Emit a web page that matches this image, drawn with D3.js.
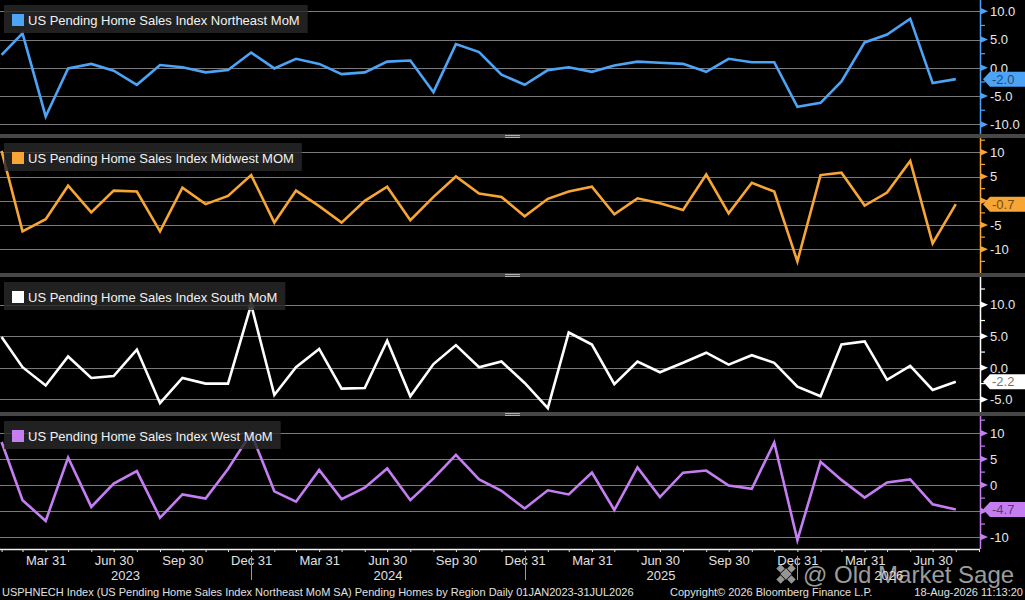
<!DOCTYPE html>
<meta charset="utf-8">
<style>
body { margin: 0; background: #000; }
svg { display: block; font-family: "Liberation Sans", Arial, sans-serif; }
</style>
<body>
<script src="https://cdn.jsdelivr.net/npm/d3@7/dist/d3.min.js"></script>
<script>

// month-end observations, Jan 31 2023 .. Jul 31 2026
var months = d3.timeMonth.range(new Date(2023, 1, 1), new Date(2026, 7, 2))
  .map(function(d) { return d3.timeDay.offset(d, -1); });

var northeast = [2.3, 6.1, -8.6, -0.1, 0.7, -0.5, -3.0, 0.5, 0.1, -0.8, -0.4, 2.7, -0.1, 1.6, 0.7, -1.1, -0.8, 1.1, 1.3, -4.3, 4.2, 2.8,
  -1.2, -3.0, -0.4, 0.1, -0.7, 0.4, 1.1, 0.9, 0.7, -0.7, 1.6, 1.0, 1.0, -6.9, -6.2, -2.4, 4.5, 5.9, 8.7, -2.7, -2.0];
var midwest = [10.3, -6.3, -3.8, 3.1, -2.4, 2.1, 1.9, -6.3, 2.7, -0.7, 1.0, 5.3, -4.5, 2.1, -1.1, -4.5, 0.0, 2.9, -4.0, 0.8, 5.0, 1.5,
  0.8, -3.2, 0.4, 1.9, 2.9, -2.8, 0.5, -0.5, -1.9, 5.4, -2.6, 3.7, 1.9, -12.5, 5.3, 5.8, -1.0, 1.7, 8.2, -8.8, -0.7];
var south = [4.9, 0.1, -2.8, 1.8, -1.6, -1.3, 2.9, -5.6, -1.6, -2.5, -2.5, 10.0, -4.3, 0.1, 3.0, -3.3, -3.2, 4.3, -4.5, 0.6, 3.6, 0.1,
  1.0, -2.4, -6.4, 5.6, 3.7, -2.6, 1.0, -0.7, 0.8, 2.4, 0.5, 2.0, 0.8, -3.0, -4.5, 3.7, 4.2, -1.9, 0.3, -3.5, -2.2];
var west = [8.3, -2.9, -6.9, 5.3, -4.2, 0.3, 2.7, -6.3, -1.8, -2.6, 3.1, 10.0, -1.2, -3.2, 2.9, -2.7, -0.5, 3.2, -2.9, 1.3, 5.8, 1.1,
  -1.1, -4.5, -1.0, -1.8, 2.4, -4.8, 3.4, -2.3, 2.4, 2.8, -0.1, -0.7, 8.2, -10.6, 4.5, 1.0, -2.4, 0.5, 1.1, -3.7, -4.7];

var seriesNames = ["US Pending Home Sales Index Northeast MoM", "US Pending Home Sales Index Midwest MOM",
  "US Pending Home Sales Index South MoM", "US Pending Home Sales Index West MoM"];
var yearLabels = ["2023", "2024", "2025", "2026"];
var footerLeft = "USPHNECH Index (US Pending Home Sales Index Northeast MoM SA) Pending Homes by Region Daily 01JAN2023-31JUL2026";
var footerMid = "Copyright\u00a9 2026 Bloomberg Finance L.P.";
var footerRight = "18-Aug-2026 11:13:20";

var W = 1025, H = 600, axisX = 980;

// one entry per stacked pane (layout only)
var panes = [
  {values: northeast, name: seriesNames[0], color: "#4da3f5", top: 0,   bottom: 134, domain: [-11.7, 12.0], ticks: [-10, -5, 0, 5, 10], fmt: ".1f"},
  {values: midwest,   name: seriesNames[1], color: "#f7a535", top: 138, bottom: 273, domain: [-14.9, 12.95], ticks: [-10, -5, 0, 5, 10], fmt: "d"},
  {values: south,     name: seriesNames[2], color: "#ffffff", top: 277, bottom: 412, domain: [-7.0, 14.4], ticks: [-5, 0, 5, 10], fmt: ".1f"},
  {values: west,      name: seriesNames[3], color: "#c57ef2", top: 416, bottom: 549, domain: [-12.3, 13.3], ticks: [-10, -5, 0, 5, 10], fmt: "d"}
];

var x = d3.scaleTime()
  .domain([months[0], months[months.length - 1]])
  .range([1.6, 955.8]);

var svg = d3.select("body").append("svg")
  .attr("width", W)
  .attr("height", H);

svg.append("rect").attr("width", W).attr("height", H).attr("fill", "#000");

panes.forEach(function(p) {
  var y = d3.scaleLinear().domain(p.domain).range([p.bottom, p.top]);
  var g = svg.append("g");
  var last = p.values[p.values.length - 1];
  var fy = y(last);

  // grid
  g.selectAll(".grid")
    .data(p.ticks)
    .enter().append("line")
      .attr("x1", 0).attr("x2", axisX)
      .attr("y1", function(d) { return Math.round(y(d)) + 0.5; })
      .attr("y2", function(d) { return Math.round(y(d)) + 0.5; })
      .attr("stroke", "#7a7a7a")
      .attr("stroke-width", 1);

  // series line
  var line = d3.line()
    .x(function(d, i) { return x(months[i]); })
    .y(function(d) { return y(d); });

  g.append("path")
    .datum(p.values)
    .attr("d", line)
    .attr("fill", "none")
    .attr("stroke", p.color)
    .attr("stroke-width", 2.6)
    .attr("stroke-linejoin", "miter");

  // high marker in south pane
  if (p.values === south) {
    var hi = d3.maxIndex(south);
    var hx = x(months[hi]), hy = y(south[hi]);
    g.append("path")
      .attr("d", "M" + hx + "," + (hy - 4) + "l-4,7h8z")
      .attr("fill", "#8a8a8a");
  }

  // right axis
  g.append("line")
    .attr("x1", axisX + 0.5).attr("x2", axisX + 0.5)
    .attr("y1", p.top).attr("y2", p.bottom)
    .attr("stroke", p.color).attr("stroke-width", 1.5);

  var minor = d3.range(-15, 15.01, 2.5).filter(function(v) {
    return v > p.domain[0] && v < p.domain[1] && p.ticks.indexOf(v) < 0;
  });
  g.selectAll(".minor")
    .data(minor)
    .enter().append("line")
      .attr("x1", axisX).attr("x2", axisX + 5)
      .attr("y1", function(d) { return y(d); })
      .attr("y2", function(d) { return y(d); })
      .attr("stroke", p.color).attr("stroke-width", 1.2);

  g.selectAll(".tri")
    .data(p.ticks)
    .enter().append("path")
      .attr("d", function(d) { var ty = y(d); return "M" + axisX + "," + (ty - 3.5) + "L" + (axisX + 8) + "," + ty + "L" + axisX + "," + (ty + 3.5) + "Z"; })
      .attr("fill", p.color);

  // labels hidden behind the last-value flag are left out, as in the terminal
  g.selectAll(".tlab")
    .data(p.ticks.filter(function(d) { return Math.abs(y(d) - fy) > 8; }))
    .enter().append("text")
      .attr("x", axisX + 10)
      .attr("y", function(d) { return y(d); })
      .attr("dy", "0.36em")
      .attr("fill", "#e8e8e8")
      .attr("font-size", 13)
      .text(function(d) { return d3.format(p.fmt)(d).replace("\u2212", "-"); });

  // last value flag
  g.append("path")
    .attr("d", "M" + (axisX + 3) + "," + fy + "L" + (axisX + 10) + "," + (fy - 7.5) + "H" + W + "V" + (fy + 7.5) + "H" + (axisX + 10) + "Z")
    .attr("fill", p.color);
  g.append("text")
    .attr("x", axisX + 12)
    .attr("y", fy)
    .attr("dy", "0.36em")
    .attr("font-size", 13)
    .attr("fill", d3.color(p.color).darker(2.2))
    .text(d3.format(".1f")(last).replace("\u2212", "-"));

  // legend
  var lg = g.append("g");
  var box = lg.append("rect")
    .attr("x", 4).attr("y", p.top + 5)
    .attr("height", 28)
    .attr("fill", "rgba(40,40,40,0.82)");
  lg.append("rect")
    .attr("x", 12).attr("y", p.top + 14)
    .attr("width", 12).attr("height", 12)
    .attr("fill", p.color);
  var lt = lg.append("text")
    .attr("x", 28).attr("y", p.top + 25)
    .attr("font-size", 13)
    .attr("fill", "#f2f2f2")
    .text(p.name);
  box.attr("width", lt.node().getComputedTextLength() + 32);
});

// pane separators with grips
[134, 273, 412].forEach(function(sy) {
  svg.append("rect").attr("x", 0).attr("y", sy).attr("width", W).attr("height", 4).attr("fill", "#474747");
  svg.append("line").attr("x1", 505).attr("x2", 520).attr("y1", sy + 1.5).attr("y2", sy + 1.5).attr("stroke", "#b0b0b0");
  svg.append("line").attr("x1", 505).attr("x2", 520).attr("y1", sy + 3.5).attr("y2", sy + 3.5).attr("stroke", "#b0b0b0");
});

// bottom time axis
svg.append("line")
  .attr("x1", 0).attr("x2", axisX)
  .attr("y1", 549.5).attr("y2", 549.5)
  .attr("stroke", "#f0f0f0").attr("stroke-width", 1.5);

var fmtQ = d3.timeFormat("%b %d");
var xAxis = d3.axisBottom(x)
  .tickValues(months.concat([d3.timeDay.offset(months[months.length - 1], 31)]))
  .tickSize(3)
  .tickPadding(4)
  .tickFormat(function(d) { return (d.getMonth() + 1) % 3 === 0 && d <= months[months.length - 1] ? fmtQ(d) : ""; });

var xg = svg.append("g")
  .attr("transform", "translate(0,549)")
  .call(xAxis);
xg.select(".domain").remove();
xg.selectAll(".tick line").attr("stroke", "#e0e0e0");
xg.selectAll(".tick text")
  .attr("fill", "#e0e0e0")
  .attr("font-size", 13)
  .attr("font-family", "Liberation Sans, Arial, sans-serif");

// year separators and labels
var yearEnds = months.filter(function(d) { return d.getMonth() === 11; });
svg.selectAll(".ysep")
  .data(yearEnds)
  .enter().append("line")
    .attr("x1", function(d) { return Math.round(x(d)) + 0.5; })
    .attr("x2", function(d) { return Math.round(x(d)) + 0.5; })
    .attr("y1", 556).attr("y2", 580)
    .attr("stroke", "#9a9a9a");

var bounds = [0].concat(yearEnds.map(function(d) { return x(d); }), [axisX]);
svg.selectAll(".ylab")
  .data(yearLabels)
  .enter().append("text")
    .attr("x", function(d, i) { return (bounds[i] + bounds[i + 1]) / 2; })
    .attr("y", 580)
    .attr("text-anchor", "middle")
    .attr("font-size", 13)
    .attr("fill", "#e0e0e0")
    .text(function(d) { return d; });

// footer
svg.append("text").attr("x", 2).attr("y", 596).attr("font-size", 11).attr("fill", "#e0e0e0").text(footerLeft);
svg.append("text").attr("x", 670).attr("y", 596).attr("font-size", 11).attr("fill", "#e0e0e0").text(footerMid);
svg.append("text").attr("x", 1023).attr("y", 596).attr("text-anchor", "end").attr("font-size", 11).attr("fill", "#e0e0e0").text(footerRight);

// watermark
var wm = svg.append("g").attr("opacity", 0.72);
var logo = wm.append("g").attr("transform", "translate(786,574) rotate(45)").attr("fill", "#cfcfcf");
logo.append("rect").attr("x", -4).attr("y", -4).attr("width", 8).attr("height", 8);
[[-11, 0], [11, 0], [0, -11], [0, 11]].forEach(function(o) {
  logo.append("rect").attr("x", o[0] * 0.7 - 3).attr("y", o[1] * 0.7 - 3).attr("width", 6).attr("height", 6);
});
wm.append("text")
  .attr("x", 803).attr("y", 583)
  .attr("font-size", 24)
  .attr("fill", "#d8d8d8")
  .text("@ Old Market Sage");

</script>
</body>
